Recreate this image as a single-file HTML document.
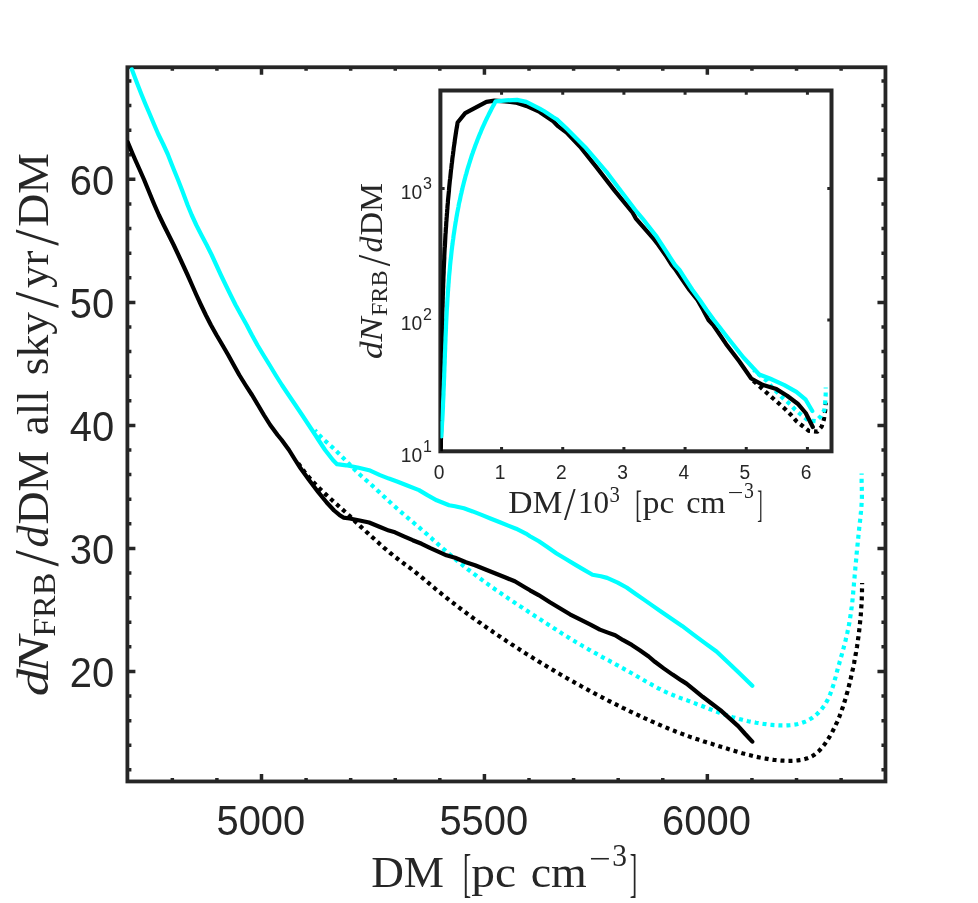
<!DOCTYPE html>
<html><head><meta charset="utf-8"><title>dN/dDM plot</title>
<style>html,body{margin:0;padding:0;background:#fff;}svg{display:block;}</style>
</head><body>
<svg width="978" height="903" viewBox="0 0 978 903">
<rect x="0" y="0" width="978" height="903" fill="#fff"/>
<rect x="127.4" y="67.25" width="758.05" height="714.20" fill="none" stroke="#262626" stroke-width="3.8"/>
<path d="M172.33,781.45V778.05M172.33,67.25V70.65M216.91,781.45V778.05M216.91,67.25V70.65M261.50,781.45V773.95M261.50,67.25V74.75M306.08,781.45V778.05M306.08,67.25V70.65M350.67,781.45V778.05M350.67,67.25V70.65M395.25,781.45V778.05M395.25,67.25V70.65M439.84,781.45V778.05M439.84,67.25V70.65M484.43,781.45V773.95M484.43,67.25V74.75M529.01,781.45V778.05M529.01,67.25V70.65M573.60,781.45V778.05M573.60,67.25V70.65M618.18,781.45V778.05M618.18,67.25V70.65M662.77,781.45V778.05M662.77,67.25V70.65M707.35,781.45V773.95M707.35,67.25V74.75M751.93,781.45V778.05M751.93,67.25V70.65M796.52,781.45V778.05M796.52,67.25V70.65M841.11,781.45V778.05M841.11,67.25V70.65M127.4,769.87H131.40M885.45,769.87H881.45M127.4,745.26H131.40M885.45,745.26H881.45M127.4,720.66H131.40M885.45,720.66H881.45M127.4,696.06H131.40M885.45,696.06H881.45M127.4,671.45H135.40M885.45,671.45H877.45M127.4,646.85H131.40M885.45,646.85H881.45M127.4,622.24H131.40M885.45,622.24H881.45M127.4,597.63H131.40M885.45,597.63H881.45M127.4,573.03H131.40M885.45,573.03H881.45M127.4,548.42H135.40M885.45,548.42H877.45M127.4,523.82H131.40M885.45,523.82H881.45M127.4,499.21H131.40M885.45,499.21H881.45M127.4,474.61H131.40M885.45,474.61H881.45M127.4,450.00H131.40M885.45,450.00H881.45M127.4,425.40H135.40M885.45,425.40H877.45M127.4,400.79H131.40M885.45,400.79H881.45M127.4,376.19H131.40M885.45,376.19H881.45M127.4,351.58H131.40M885.45,351.58H881.45M127.4,326.98H131.40M885.45,326.98H881.45M127.4,302.38H135.40M885.45,302.38H877.45M127.4,277.77H131.40M885.45,277.77H881.45M127.4,253.16H131.40M885.45,253.16H881.45M127.4,228.56H131.40M885.45,228.56H881.45M127.4,203.95H131.40M885.45,203.95H881.45M127.4,179.35H135.40M885.45,179.35H877.45M127.4,154.74H131.40M885.45,154.74H881.45M127.4,130.14H131.40M885.45,130.14H881.45M127.4,105.53H131.40M885.45,105.53H881.45M127.4,80.93H131.40M885.45,80.93H881.45" stroke="#262626" stroke-width="3.5" fill="none"/>
<clipPath id="cm"><rect x="127.4" y="67.25" width="758.05" height="714.20"/></clipPath>
<g fill="none" stroke-linejoin="round" clip-path="url(#cm)">
<polyline points="296.3,460.2 297.4,461.9 298.5,463.6 299.6,465.2 300.8,466.9 301.9,468.5 303.2,470.1 304.4,471.7 305.6,473.2 306.9,474.8 308.2,476.3 309.5,477.8 310.8,479.3 312.2,480.8 313.5,482.3 314.9,483.7 316.3,485.1 317.7,486.6 319.1,488.0 320.5,489.4 322.0,490.8 323.4,492.2 324.9,493.6 326.3,494.9 327.8,496.3 329.3,497.6 330.8,499.0 332.2,500.3 333.7,501.7 335.2,503.0 336.7,504.3 338.2,505.7 339.7,507.0 341.2,508.3 342.7,509.7 344.2,511.0 345.7,512.3 347.1,513.7 348.6,515.0 350.1,516.4 351.5,517.8 352.9,519.2 354.3,520.6 355.7,522.0 357.2,523.3 358.6,524.7 360.1,526.1 361.5,527.4 363.0,528.8 364.5,530.1 366.0,531.5 367.5,532.8 368.9,534.2 370.4,535.5 371.9,536.9 373.4,538.2 374.9,539.6 376.4,540.9 377.9,542.2 379.3,543.6 380.8,544.9 382.3,546.2 383.8,547.6 385.4,548.9 386.9,550.2 388.4,551.5 389.9,552.8 391.5,554.0 393.0,555.3 394.6,556.6 396.2,557.8 397.8,559.0 399.4,560.2 401.0,561.4 402.6,562.6 404.2,563.8 405.8,565.0 407.4,566.2 409.0,567.3 410.7,568.5 412.2,569.8 413.8,571.0 415.4,572.2 417.0,573.5 418.5,574.7 420.1,576.0 421.6,577.2 423.2,578.5 424.7,579.8 426.2,581.1 427.8,582.4 429.3,583.7 430.8,585.0 432.4,586.2 433.9,587.5 435.4,588.8 437.0,590.1 438.5,591.4 440.1,592.6 441.6,593.9 443.2,595.2 444.7,596.4 446.3,597.7 447.9,598.9 449.4,600.1 451.0,601.4 452.6,602.6 454.2,603.8 455.8,605.0 457.4,606.3 459.0,607.5 460.6,608.7 462.2,609.9 463.8,611.1 465.4,612.3 467.0,613.5 468.6,614.6 470.2,615.8 471.8,617.0 473.4,618.2 475.1,619.3 476.7,620.5 478.3,621.7 480.0,622.8 481.6,624.0 483.2,625.1 484.9,626.3 486.5,627.4 488.2,628.6 489.8,629.7 491.5,630.8 493.1,632.0 494.8,633.1 496.4,634.2 498.1,635.4 499.8,636.5 501.4,637.6 503.1,638.7 504.8,639.8 506.4,640.9 508.1,642.0 509.8,643.1 511.4,644.2 513.1,645.3 514.8,646.4 516.5,647.5 518.2,648.6 519.9,649.7 521.5,650.7 523.2,651.8 524.9,652.9 526.6,654.0 528.3,655.0 530.0,656.1 531.7,657.1 533.4,658.2 535.1,659.3 536.8,660.3 538.5,661.4 540.2,662.4 541.9,663.4 543.7,664.5 545.4,665.5 547.1,666.6 548.8,667.6 550.5,668.6 552.3,669.6 554.0,670.6 555.7,671.7 557.4,672.7 559.2,673.7 560.9,674.7 562.6,675.7 564.4,676.7 566.1,677.7 567.8,678.7 569.6,679.7 571.3,680.7 573.1,681.6 574.8,682.6 576.6,683.6 578.3,684.6 580.1,685.5 581.8,686.5 583.6,687.5 585.3,688.4 587.1,689.4 588.8,690.3 590.6,691.3 592.4,692.2 594.1,693.2 595.9,694.1 597.7,695.0 599.4,696.0 601.2,696.9 603.0,697.8 604.8,698.8 606.6,699.7 608.3,700.6 610.1,701.5 611.9,702.4 613.7,703.3 615.5,704.2 617.3,705.1 619.1,706.0 620.9,706.9 622.7,707.8 624.5,708.6 626.3,709.5 628.1,710.4 629.9,711.3 631.7,712.1 633.5,713.0 635.3,713.8 637.1,714.7 638.9,715.5 640.7,716.4 642.6,717.2 644.4,718.1 646.2,718.9 648.0,719.7 649.9,720.5 651.7,721.4 653.5,722.2 655.4,723.0 657.2,723.8 659.0,724.6 660.9,725.4 662.7,726.2 664.6,726.9 666.4,727.7 668.3,728.5 670.1,729.2 672.0,730.0 673.9,730.7 675.7,731.5 677.6,732.2 679.5,732.9 681.3,733.6 683.2,734.3 685.1,735.0 687.0,735.7 688.8,736.4 690.7,737.1 692.6,737.7 694.5,738.4 696.4,739.0 698.3,739.6 700.2,740.2 702.1,740.8 704.0,741.5 705.9,742.1 707.8,742.7 709.7,743.3 711.6,743.8 713.5,744.4 715.4,745.0 717.3,745.6 719.2,746.2 721.1,746.8 723.1,747.4 725.0,748.0 726.9,748.6 728.8,749.2 730.8,749.8 732.7,750.3 734.6,750.9 736.5,751.5 738.5,752.1 740.4,752.6 742.3,753.2 744.3,753.7 746.2,754.2 748.1,754.8 750.1,755.2 752.0,755.7 753.9,756.2 755.9,756.7 757.8,757.1 759.7,757.5 761.7,757.9 763.6,758.3 765.6,758.6 767.5,758.9 769.5,759.3 771.4,759.5 773.4,759.8 775.4,760.0 777.4,760.2 779.4,760.4 781.4,760.6 783.5,760.7 785.5,760.8 787.6,760.8 789.6,760.8 791.7,760.8 793.7,760.7 795.7,760.6 797.8,760.4 799.8,760.1 801.7,759.8 803.7,759.3 805.6,758.8 807.4,758.2 809.2,757.5 811.0,756.7 812.7,755.8 814.4,754.7 815.9,753.6 817.4,752.3 818.9,751.0 820.3,749.5 821.6,748.0 822.9,746.4 824.2,744.8 825.4,743.2 826.5,741.5 827.6,739.8 828.7,738.1 829.8,736.4 830.8,734.6 831.8,732.9 832.7,731.1 833.6,729.3 834.5,727.6 835.4,725.8 836.2,723.9 837.1,722.1 837.9,720.3 838.6,718.4 839.4,716.6 840.1,714.7 840.8,712.9 841.5,711.0 842.1,709.1 842.8,707.2 843.4,705.3 844.0,703.4 844.6,701.5 845.2,699.6 845.8,697.7 846.3,695.8 846.8,693.8 847.4,691.9 847.9,690.0 848.4,688.0 848.9,686.1 849.4,684.1 849.9,682.2 850.3,680.2 850.8,678.3 851.2,676.3 851.7,674.4 852.1,672.4 852.5,670.5 853.0,668.5 853.4,666.5 853.8,664.6 854.2,662.6 854.5,660.6 854.9,658.7 855.3,656.7 855.6,654.7 856.0,652.7 856.3,650.8 856.6,648.8 857.0,646.8 857.3,644.8 857.6,642.9 857.9,640.9 858.1,638.9 858.4,636.9 858.7,634.9 858.9,632.9 859.2,630.9 859.4,628.9 859.6,627.0 859.8,625.0 860.0,623.0 860.2,621.0 860.4,619.0 860.6,617.0 860.8,615.0 860.9,613.0 861.1,611.0 861.2,609.0 861.3,607.0 861.5,605.0 861.6,603.0 861.7,601.0 861.8,599.0 861.8,597.0 861.9,595.0 862.0,593.0 862.0,591.0 862.0,589.0 862.1,587.0 862.1,585.0 862.1,583.0" stroke="#000" stroke-width="4.2" stroke-dasharray="4 4" stroke-dashoffset="4.36"/>
<polyline points="314.9,430.1 316.2,431.7 317.5,433.2 318.8,434.7 320.2,436.1 321.6,437.5 323.0,438.9 324.5,440.3 326.0,441.6 327.4,442.9 328.9,444.3 330.4,445.6 331.9,446.9 333.4,448.3 334.8,449.6 336.3,451.0 337.7,452.4 339.1,453.8 340.5,455.2 341.9,456.7 343.3,458.1 344.7,459.5 346.1,461.0 347.5,462.4 348.9,463.8 350.3,465.3 351.7,466.7 353.1,468.1 354.5,469.5 356.0,470.9 357.4,472.2 358.9,473.6 360.3,475.0 361.8,476.3 363.3,477.6 364.8,479.0 366.3,480.3 367.8,481.6 369.3,483.0 370.8,484.3 372.3,485.6 373.7,487.0 375.2,488.3 376.7,489.7 378.1,491.1 379.6,492.4 381.0,493.8 382.5,495.2 383.9,496.5 385.4,497.9 386.9,499.3 388.3,500.6 389.8,502.0 391.3,503.3 392.7,504.7 394.2,506.0 395.7,507.3 397.2,508.7 398.7,510.0 400.2,511.3 401.7,512.6 403.2,513.9 404.8,515.2 406.3,516.5 407.8,517.8 409.3,519.1 410.8,520.4 412.4,521.7 413.9,523.0 415.4,524.3 416.9,525.6 418.5,526.9 420.0,528.2 421.5,529.5 423.0,530.8 424.5,532.1 426.0,533.4 427.5,534.7 429.0,536.1 430.5,537.4 432.0,538.7 433.5,540.1 435.0,541.4 436.5,542.7 438.0,544.1 439.4,545.4 440.9,546.7 442.4,548.1 443.9,549.4 445.4,550.7 446.9,552.0 448.4,553.3 450.0,554.6 451.5,555.9 453.0,557.2 454.5,558.5 456.1,559.8 457.6,561.1 459.2,562.3 460.7,563.6 462.3,564.8 463.8,566.1 465.4,567.3 467.0,568.6 468.5,569.8 470.1,571.0 471.7,572.2 473.3,573.4 474.9,574.6 476.5,575.8 478.1,577.0 479.7,578.2 481.3,579.4 482.9,580.6 484.5,581.8 486.1,582.9 487.8,584.1 489.4,585.3 491.0,586.4 492.6,587.6 494.3,588.7 495.9,589.9 497.6,591.0 499.2,592.2 500.9,593.3 502.5,594.4 504.2,595.6 505.8,596.7 507.5,597.8 509.1,598.9 510.8,600.0 512.4,601.2 514.1,602.3 515.8,603.4 517.4,604.5 519.1,605.6 520.8,606.7 522.5,607.8 524.1,608.9 525.8,610.0 527.5,611.1 529.1,612.2 530.8,613.3 532.5,614.4 534.2,615.5 535.8,616.6 537.5,617.6 539.2,618.7 540.9,619.8 542.6,620.9 544.2,622.0 545.9,623.1 547.6,624.2 549.3,625.3 550.9,626.3 552.6,627.4 554.3,628.5 556.0,629.6 557.7,630.7 559.4,631.7 561.0,632.8 562.7,633.9 564.4,634.9 566.1,636.0 567.8,637.1 569.5,638.1 571.2,639.2 572.9,640.2 574.6,641.2 576.3,642.3 578.1,643.3 579.8,644.3 581.5,645.3 583.2,646.3 585.0,647.3 586.7,648.3 588.4,649.3 590.2,650.3 591.9,651.3 593.7,652.3 595.4,653.2 597.2,654.2 598.9,655.2 600.7,656.1 602.4,657.1 604.2,658.1 605.9,659.0 607.7,660.0 609.5,660.9 611.2,661.9 613.0,662.8 614.7,663.8 616.5,664.8 618.2,665.7 620.0,666.7 621.7,667.7 623.5,668.6 625.2,669.6 627.0,670.6 628.7,671.6 630.4,672.5 632.2,673.5 633.9,674.5 635.7,675.5 637.4,676.5 639.1,677.5 640.8,678.5 642.6,679.5 644.3,680.5 646.0,681.5 647.8,682.5 649.5,683.5 651.3,684.4 653.0,685.4 654.8,686.4 656.5,687.3 658.3,688.3 660.1,689.2 661.8,690.1 663.6,691.0 665.4,691.8 667.2,692.6 669.1,693.4 670.9,694.2 672.8,695.0 674.6,695.7 676.5,696.4 678.3,697.2 680.2,697.9 682.1,698.6 684.0,699.2 685.8,699.9 687.7,700.6 689.6,701.3 691.5,702.0 693.3,702.7 695.2,703.4 697.1,704.2 698.9,704.9 700.8,705.6 702.7,706.3 704.5,707.0 706.4,707.8 708.3,708.5 710.1,709.2 712.0,709.9 713.9,710.6 715.7,711.3 717.6,712.0 719.5,712.7 721.4,713.4 723.3,714.1 725.1,714.7 727.0,715.3 728.9,716.0 730.8,716.6 732.7,717.2 734.7,717.7 736.6,718.3 738.5,718.8 740.4,719.3 742.4,719.8 744.3,720.3 746.3,720.7 748.2,721.2 750.2,721.6 752.2,722.0 754.1,722.3 756.1,722.7 758.0,723.0 760.0,723.4 762.0,723.7 764.0,724.0 765.9,724.2 767.9,724.5 769.9,724.7 771.9,724.9 773.9,725.1 775.9,725.2 777.9,725.3 779.9,725.4 781.9,725.4 783.9,725.4 785.9,725.4 787.9,725.3 790.0,725.2 792.0,725.0 793.9,724.7 795.9,724.4 797.9,724.0 799.8,723.5 801.7,723.0 803.6,722.3 805.4,721.6 807.2,720.8 809.0,719.8 810.7,718.8 812.4,717.7 814.0,716.5 815.5,715.3 817.0,714.0 818.5,712.6 819.9,711.1 821.2,709.6 822.4,708.1 823.6,706.5 824.7,704.9 825.8,703.2 826.7,701.5 827.7,699.7 828.5,697.9 829.3,696.1 830.1,694.3 830.8,692.4 831.5,690.6 832.1,688.7 832.8,686.7 833.4,684.8 833.9,682.9 834.5,680.9 835.0,679.0 835.6,677.0 836.1,675.1 836.6,673.1 837.1,671.2 837.7,669.2 838.2,667.3 838.8,665.3 839.3,663.4 839.8,661.4 840.4,659.5 840.9,657.6 841.5,655.7 842.0,653.7 842.5,651.8 843.0,649.9 843.6,647.9 844.1,646.0 844.6,644.1 845.1,642.2 845.6,640.2 846.0,638.3 846.5,636.4 846.9,634.4 847.4,632.5 847.8,630.6 848.2,628.6 848.6,626.7 849.0,624.7 849.4,622.8 849.7,620.8 850.0,618.8 850.3,616.9 850.6,614.9 850.9,612.9 851.2,610.9 851.4,609.0 851.7,607.0 851.9,605.0 852.2,603.0 852.4,601.0 852.6,599.0 852.8,597.0 853.0,595.0 853.2,593.0 853.3,591.0 853.5,589.0 853.7,587.0 853.9,585.0 854.0,583.0 854.2,581.0 854.4,579.0 854.6,577.0 854.7,575.0 854.9,573.0 855.1,571.0 855.3,569.0 855.4,567.1 855.6,565.1 855.8,563.1 856.0,561.1 856.2,559.1 856.4,557.1 856.5,555.1 856.7,553.1 856.9,551.1 857.1,549.2 857.3,547.2 857.5,545.2 857.7,543.2 857.9,541.2 858.1,539.2 858.3,537.2 858.5,535.3 858.7,533.3 858.9,531.3 859.1,529.3 859.3,527.3 859.5,525.3 859.7,523.4 860.0,521.4 860.2,519.4 860.4,517.4 860.6,515.4 860.8,513.4 861.0,511.4 861.1,509.5 861.3,507.5 861.5,505.5 861.6,503.5 861.7,501.5 861.8,499.5 861.9,497.5 861.9,495.5 861.9,493.5 861.9,491.5 861.8,489.5 861.8,487.5 861.7,485.5 861.7,483.5 861.6,481.5 861.6,479.5 861.6,477.5 861.6,475.5 861.6,473.5" stroke="#0ff" stroke-width="4.2" stroke-dasharray="4 4" stroke-dashoffset="1.71"/>
<polyline points="127.7,142.1 132.7,154.0 135.3,160.0 139.8,170.0 144.2,180.0 148.3,190.0 152.4,200.0 154.5,205.0 158.9,215.0 163.7,225.0 168.7,235.0 173.7,245.0 178.4,255.0 183.0,265.0 187.6,275.0 192.0,285.0 196.4,295.0 201.0,305.0 205.8,315.0 210.9,325.0 216.5,335.0 222.4,345.0 228.2,355.0 233.7,365.0 239.3,375.0 245.5,385.0 252.0,395.0 258.0,405.0 263.9,415.0 270.2,425.0 277.6,435.0 281.7,440.0 289.0,450.0 295.2,460.0 300.4,468.0 308.7,479.5 318.1,491.9 326.7,502.5 334.1,510.5 339.4,514.9 343.4,517.6 349.6,518.5 358.5,520.2 369.1,522.5 380.0,527.0 388.9,530.6 395.0,532.3 403.9,536.3 412.7,540.2 421.6,543.8 430.4,548.2 439.3,552.2 446.4,555.3 455.1,557.8 465.9,562.3 475.0,565.3 484.9,569.3 494.9,573.3 504.9,577.3 514.8,581.3 524.8,587.2 530.0,590.3 538.6,595.1 549.9,602.3 559.9,608.3 569.9,614.3 580.0,619.3 590.0,624.3 599.9,629.6 607.9,632.6 615.2,635.2 623.2,640.2 631.8,644.9 639.8,650.2 648.7,656.5 654.9,661.8 663.7,668.4 672.6,674.6 681.4,680.4 686.5,683.6 693.9,689.7 702.7,696.8 711.6,703.5 720.4,710.1 729.3,718.1 738.2,726.1 745.2,734.0 752.3,741.6" stroke="#000" stroke-width="4.2" stroke-linecap="round"/>
<polyline points="131.8,69.2 133.6,74.0 137.4,84.0 141.3,94.0 145.4,104.0 149.7,114.0 153.9,124.0 158.2,134.0 163.1,144.0 167.7,154.0 171.6,164.0 174.0,170.0 178.1,180.0 182.0,190.0 187.6,205.0 191.7,215.0 196.3,225.0 201.4,235.0 206.7,245.0 211.7,255.0 216.3,265.0 220.9,275.0 225.7,285.0 230.6,295.0 235.6,305.0 241.1,315.0 246.7,325.0 251.9,335.0 257.4,345.0 263.4,355.0 269.6,365.0 275.6,375.0 281.9,385.0 288.6,395.0 295.4,405.0 302.1,415.0 308.7,425.0 315.3,435.0 318.5,440.0 325.1,450.0 332.9,460.0 337.0,464.2 346.1,465.3 357.6,467.5 369.1,470.2 380.0,475.1 388.9,478.6 397.7,481.7 406.6,485.2 419.0,490.1 427.8,495.4 436.7,500.3 449.1,505.2 455.0,506.3 463.9,508.3 472.7,511.4 481.6,514.9 490.4,518.5 499.3,522.0 508.2,525.6 516.1,528.7 525.9,533.6 530.0,536.2 538.9,541.3 547.7,547.3 556.6,553.5 565.4,558.8 574.3,564.1 583.2,569.4 592.5,574.7 600.9,576.3 607.1,577.9 617.7,582.6 626.6,587.5 635.4,593.7 644.3,599.9 653.2,606.1 662.0,612.3 671.1,618.5 682.1,625.9 693.2,634.3 704.3,642.6 716.5,651.5 728.7,663.1 739.7,673.6 752.3,685.8" stroke="#0ff" stroke-width="4.2" stroke-linecap="round"/>
</g>
<text x="216.46" y="834.90" font-family='"Liberation Sans", Arial, sans-serif' font-size="42" textLength="88.77" lengthAdjust="spacingAndGlyphs" fill="#262626">5000</text>
<text x="439.39" y="834.90" font-family='"Liberation Sans", Arial, sans-serif' font-size="42" textLength="88.77" lengthAdjust="spacingAndGlyphs" fill="#262626">5500</text>
<text x="662.11" y="834.90" font-family='"Liberation Sans", Arial, sans-serif' font-size="42" textLength="88.77" lengthAdjust="spacingAndGlyphs" fill="#262626">6000</text>
<text x="69.81" y="686.95" font-family='"Liberation Sans", Arial, sans-serif' font-size="42" textLength="44.38" lengthAdjust="spacingAndGlyphs" fill="#262626">20</text>
<text x="69.81" y="563.92" font-family='"Liberation Sans", Arial, sans-serif' font-size="42" textLength="44.38" lengthAdjust="spacingAndGlyphs" fill="#262626">30</text>
<text x="69.81" y="440.90" font-family='"Liberation Sans", Arial, sans-serif' font-size="42" textLength="44.38" lengthAdjust="spacingAndGlyphs" fill="#262626">40</text>
<text x="69.81" y="317.88" font-family='"Liberation Sans", Arial, sans-serif' font-size="42" textLength="44.38" lengthAdjust="spacingAndGlyphs" fill="#262626">50</text>
<text x="69.81" y="194.85" font-family='"Liberation Sans", Arial, sans-serif' font-size="42" textLength="44.38" lengthAdjust="spacingAndGlyphs" fill="#262626">60</text>
<text x="371.19" y="886.70" font-family='"Liberation Serif", "Times New Roman", serif' font-size="44.9" textLength="72.87" lengthAdjust="spacingAndGlyphs" fill="#262626">DM</text>
<text x="463.01" y="891.10" font-family='"Liberation Serif", "Times New Roman", serif' font-size="52.9" textLength="8.17" lengthAdjust="spacingAndGlyphs" fill="#262626">[</text>
<text x="471.24" y="886.70" font-family='"Liberation Serif", "Times New Roman", serif' font-size="44.9" textLength="44.78" lengthAdjust="spacingAndGlyphs" fill="#262626">pc</text>
<text x="530.71" y="886.70" font-family='"Liberation Serif", "Times New Roman", serif' font-size="44.9" textLength="56.07" lengthAdjust="spacingAndGlyphs" fill="#262626">cm</text>
<text x="589.33" y="868.60" font-family='"Liberation Serif", "Times New Roman", serif' font-size="31.5" textLength="21.71" lengthAdjust="spacingAndGlyphs" fill="#262626">−</text>
<text x="612.13" y="866.00" font-family='"Liberation Serif", "Times New Roman", serif' font-size="31.5" textLength="14.70" lengthAdjust="spacingAndGlyphs" fill="#262626">3</text>
<text x="629.87" y="890.90" font-family='"Liberation Serif", "Times New Roman", serif' font-size="52.9" textLength="7.40" lengthAdjust="spacingAndGlyphs" fill="#262626">]</text>
<text transform="translate(47.60,696.19) rotate(-90)" x="0" y="0" font-family='"Liberation Serif", "Times New Roman", serif' font-size="44.9" font-style="italic" textLength="27.34" lengthAdjust="spacingAndGlyphs" fill="#262626">d</text>
<text transform="translate(47.60,673.37) rotate(-90)" x="0" y="0" font-family='"Liberation Serif", "Times New Roman", serif' font-size="44.9" font-style="italic" textLength="37.43" lengthAdjust="spacingAndGlyphs" fill="#262626">N</text>
<text transform="translate(54.60,636.66) rotate(-90)" x="0" y="0" font-family='"Liberation Serif", "Times New Roman", serif' font-size="32" textLength="63.84" lengthAdjust="spacingAndGlyphs" fill="#262626">FRB</text>
<text transform="translate(57.50,566.55) rotate(-90)" x="0" y="0" font-family='"Liberation Serif", "Times New Roman", serif' font-size="64" textLength="16.37" lengthAdjust="spacingAndGlyphs" fill="#262626">/</text>
<text transform="translate(47.60,547.46) rotate(-90)" x="0" y="0" font-family='"Liberation Serif", "Times New Roman", serif' font-size="44.9" font-style="italic" textLength="21.81" lengthAdjust="spacingAndGlyphs" fill="#262626">d</text>
<text transform="translate(47.60,524.52) rotate(-90)" x="0" y="0" font-family='"Liberation Serif", "Times New Roman", serif' font-size="44.9" textLength="73.71" lengthAdjust="spacingAndGlyphs" fill="#262626">DM</text>
<text transform="translate(47.60,435.23) rotate(-90)" x="0" y="0" font-family='"Liberation Serif", "Times New Roman", serif' font-size="44.9" textLength="45.16" lengthAdjust="spacingAndGlyphs" fill="#262626">all</text>
<text transform="translate(47.60,375.27) rotate(-90)" x="0" y="0" font-family='"Liberation Serif", "Times New Roman", serif' font-size="44.9" textLength="63.21" lengthAdjust="spacingAndGlyphs" fill="#262626">sky</text>
<text transform="translate(57.50,307.95) rotate(-90)" x="0" y="0" font-family='"Liberation Serif", "Times New Roman", serif' font-size="64" textLength="16.26" lengthAdjust="spacingAndGlyphs" fill="#262626">/</text>
<text transform="translate(47.60,287.90) rotate(-90)" x="0" y="0" font-family='"Liberation Serif", "Times New Roman", serif' font-size="44.9" textLength="37.31" lengthAdjust="spacingAndGlyphs" fill="#262626">yr</text>
<text transform="translate(57.50,245.85) rotate(-90)" x="0" y="0" font-family='"Liberation Serif", "Times New Roman", serif' font-size="64" textLength="16.26" lengthAdjust="spacingAndGlyphs" fill="#262626">/</text>
<text transform="translate(47.60,226.82) rotate(-90)" x="0" y="0" font-family='"Liberation Serif", "Times New Roman", serif' font-size="44.9" textLength="73.71" lengthAdjust="spacingAndGlyphs" fill="#262626">DM</text>
<rect x="440.4" y="90.5" width="391.10" height="360.80" fill="#fff" stroke="none"/>
<rect x="440.4" y="90.5" width="391.10" height="360.80" fill="none" stroke="#262626" stroke-width="4"/>
<path d="M501.57,451.3V447.10M501.57,90.5V94.70M562.74,451.3V447.10M562.74,90.5V94.70M623.91,451.3V447.10M623.91,90.5V94.70M685.08,451.3V447.10M685.08,90.5V94.70M746.25,451.3V447.10M746.25,90.5V94.70M807.42,451.3V447.10M807.42,90.5V94.70M440.4,319.95H444.60M831.5,319.95H827.30M440.4,188.60H444.60M831.5,188.60H827.30" stroke="#262626" stroke-width="3" fill="none"/>
<clipPath id="ci"><rect x="440.4" y="90.5" width="391.10" height="360.80"/></clipPath>
<g fill="none" stroke-linejoin="round" clip-path="url(#ci)">
<polyline points="751.3,379.0 755.2,382.5 767.1,393.1 779.1,403.7 785.3,409.2 791.1,415.0 796.4,421.2 802.6,426.0 808.8,430.9 817.4,431.7 821.7,426.5 823.9,419.4 825.2,410.5 825.7,402.6" stroke="#000" stroke-width="4.2" stroke-dasharray="4 4" stroke-dashoffset="5.19"/>
<polyline points="753.6,370.0 767.1,381.1 772.5,387.8 783.3,398.5 790.2,404.3 795.3,409.8 801.3,415.0 807.9,420.3 815.9,421.2 820.8,416.3 824.3,410.1 825.2,402.1 825.7,394.1 825.7,387.5" stroke="#0ff" stroke-width="4.2" stroke-dasharray="4 4" stroke-dashoffset="2.03"/>
<polyline points="440.8,451.0 440.8,449.0 440.9,447.0 440.9,445.0 440.9,443.0 440.9,441.0 441.0,439.0 441.0,437.0 441.0,435.0 441.0,433.0 441.1,431.0 441.1,428.9 441.1,426.9 441.1,424.9 441.1,422.9 441.2,420.9 441.2,418.9 441.2,416.9 441.2,414.9 441.2,412.9 441.3,410.9 441.3,408.9 441.3,406.9 441.3,404.9 441.3,402.9 441.3,400.9 441.4,398.8 441.4,396.8 441.4,394.8 441.4,392.8 441.4,390.8 441.4,388.8 441.5,386.8 441.5,384.8 441.5,382.8 441.5,380.8 441.5,378.8 441.5,376.7 441.6,374.7 441.6,372.7 441.6,370.7 441.6,368.7 441.6,366.7 441.7,364.7 441.7,362.7 441.7,360.7 441.7,358.7 441.7,356.7 441.8,354.6 441.8,352.6 441.8,350.6 441.8,348.6 441.9,346.6 441.9,344.6 441.9,342.6 441.9,340.6 442.0,338.6 442.0,336.6 442.0,334.6 442.1,332.5 442.1,330.5 442.1,328.5 442.2,326.5 442.2,324.5 442.2,322.5 442.3,320.5 442.3,318.5 442.4,316.5 442.4,314.5 442.4,312.4 442.5,310.4 442.5,308.4 442.6,306.4 442.6,304.4 442.7,302.4 442.7,300.4 442.8,298.4 442.8,296.4 442.9,294.4 443.0,292.4 443.0,290.4 443.1,288.3 443.2,286.3 443.2,284.3 443.3,282.3 443.4,280.3 443.4,278.3 443.5,276.3 443.6,274.3 443.7,272.3 443.7,270.3 443.8,268.3 443.9,266.3 444.0,264.3 444.1,262.2 444.2,260.2 444.3,258.2 444.3,256.2 444.4,254.2 444.5,252.2 444.6,250.2 444.7,248.2 444.9,246.2 445.0,244.2 445.1,242.2 445.2,240.2 445.3,238.2 445.4,236.2 445.5,234.2 445.7,232.2 445.8,230.2 445.9,228.2 446.1,226.2 446.2,224.2 446.3,222.2 446.5,220.2 446.6,218.2 446.8,216.2 446.9,214.2 447.1,212.2 447.2,210.2 447.4,208.2 447.5,206.2 447.7,204.2 447.9,202.2 448.0,200.2 448.2,198.2 448.4,196.2 448.6,194.2 448.8,192.2 449.0,190.2 449.1,188.2 449.3,186.2 449.5,184.2 449.7,182.2 449.9,180.2 450.2,178.2 450.4,176.2 450.6,174.2 450.8,172.2 451.0,170.2 451.3,168.2 451.5,166.2 451.7,164.2 452.0,162.3 452.2,160.3 452.4,158.3 452.7,156.3 453.0,154.3 453.2,152.3 453.5,150.3 453.7,148.3 454.0,146.3 454.3,144.3 454.6,142.4 454.8,140.4 455.1,138.4 455.4,136.4 455.7,134.4 456.0,132.4 456.3,130.4 456.6,128.5 457.0,126.5 457.3,124.5 457.6,122.5 465.2,113.2 486.4,101.9 494.4,100.6 505.0,101.3 515.7,102.6 526.3,105.9 539.6,111.9 553.3,121.3 557.6,125.9 566.6,132.6 579.9,146.5 595.8,166.4 614.4,190.4 632.7,212.7 635.7,218.3 653.9,239.2 658.4,245.0 665.4,255.0 671.7,265.0 675.8,270.0 682.6,280.0 689.5,290.0 697.5,300.0 703.2,310.0 708.5,320.0 713.2,325.0 726.0,343.9 739.2,361.2 751.2,378.5 763.2,385.1 776.4,389.1 787.1,395.7 797.7,403.7 805.7,413.0 812.8,427.0" stroke="#000" stroke-width="4.2" stroke-linecap="round"/>
<polyline points="441.3,436.3 441.4,434.3 441.6,432.3 441.7,430.3 441.8,428.3 441.9,426.4 442.0,424.4 442.1,422.4 442.3,420.4 442.4,418.4 442.5,416.4 442.6,414.4 442.7,412.4 442.8,410.4 442.9,408.4 443.0,406.4 443.0,404.4 443.1,402.4 443.2,400.4 443.3,398.4 443.4,396.4 443.5,394.4 443.5,392.4 443.6,390.4 443.7,388.4 443.8,386.4 443.9,384.4 443.9,382.4 444.0,380.4 444.1,378.4 444.2,376.4 444.2,374.4 444.3,372.4 444.4,370.4 444.4,368.4 444.5,366.3 444.6,364.3 444.7,362.3 444.7,360.3 444.8,358.3 444.9,356.3 444.9,354.3 445.0,352.3 445.1,350.3 445.2,348.3 445.2,346.3 445.3,344.2 445.4,342.2 445.5,340.2 445.5,338.2 445.6,336.2 445.7,334.2 445.8,332.2 445.9,330.2 446.0,328.2 446.0,326.2 446.1,324.2 446.2,322.1 446.3,320.1 446.4,318.1 446.5,316.1 446.6,314.1 446.7,312.1 446.8,310.1 446.9,308.1 447.1,306.1 447.2,304.1 447.3,302.1 447.4,300.1 447.5,298.1 447.7,296.1 447.8,294.1 447.9,292.0 448.1,290.0 448.2,288.0 448.4,286.0 448.5,284.0 448.7,282.0 448.8,280.0 449.0,278.0 449.1,276.0 449.3,274.0 449.5,272.0 449.7,270.0 449.9,268.0 450.0,266.1 450.2,264.1 450.4,262.1 450.6,260.1 450.9,258.1 451.1,256.1 451.3,254.1 451.5,252.1 451.7,250.1 452.0,248.1 452.2,246.1 452.5,244.2 452.7,242.2 453.0,240.2 453.3,238.2 453.5,236.2 453.8,234.2 454.1,232.3 454.4,230.3 454.7,228.3 455.0,226.3 455.3,224.4 455.6,222.4 456.0,220.4 456.3,218.4 456.6,216.5 457.0,214.5 457.3,212.5 457.7,210.6 458.1,208.6 458.5,206.6 458.8,204.7 459.2,202.7 459.7,200.8 460.1,198.8 460.5,196.9 460.9,194.9 461.4,193.0 461.8,191.0 462.3,189.1 462.7,187.1 463.2,185.2 463.7,183.3 464.2,181.3 464.7,179.4 465.2,177.5 465.7,175.5 466.3,173.6 466.8,171.7 467.3,169.8 467.9,167.9 468.5,166.0 469.1,164.0 469.7,162.1 470.3,160.2 470.9,158.3 471.5,156.4 472.1,154.5 472.8,152.7 473.4,150.8 474.1,148.9 474.8,147.0 475.5,145.1 476.2,143.3 476.9,141.4 477.6,139.5 478.4,137.7 479.1,135.8 479.9,133.9 480.7,132.1 481.4,130.3 482.2,128.4 483.0,126.6 483.9,124.7 484.7,122.9 485.5,121.1 486.4,119.3 487.3,117.4 488.2,115.6 489.1,113.8 490.0,112.0 490.9,110.2 491.8,108.4 492.8,106.6 493.7,104.9 494.7,103.1 495.7,101.3 506.0,100.4 517.0,99.9 526.3,101.9 539.6,108.6 544.3,111.3 553.3,117.3 557.6,119.9 566.6,128.6 585.2,147.2 606.4,171.8 622.4,193.0 635.3,210.0 642.3,218.3 656.6,236.6 662.0,245.0 668.5,255.0 675.0,265.0 679.5,270.0 685.9,280.0 692.5,290.0 699.8,300.0 706.6,310.0 713.9,320.0 720.4,328.3 727.3,337.3 743.2,357.2 759.2,374.5 769.8,378.5 784.4,385.1 796.4,391.8 805.7,399.7 812.3,411.0" stroke="#0ff" stroke-width="4.2" stroke-linecap="round"/>
</g>
<text x="433.72" y="479.40" font-family='"Liberation Sans", Arial, sans-serif' font-size="20" textLength="10.68" lengthAdjust="spacingAndGlyphs" fill="#262626">0</text>
<text x="494.65" y="479.40" font-family='"Liberation Sans", Arial, sans-serif' font-size="20" textLength="10.68" lengthAdjust="spacingAndGlyphs" fill="#262626">1</text>
<text x="556.11" y="479.40" font-family='"Liberation Sans", Arial, sans-serif' font-size="20" textLength="10.68" lengthAdjust="spacingAndGlyphs" fill="#262626">2</text>
<text x="617.28" y="479.40" font-family='"Liberation Sans", Arial, sans-serif' font-size="20" textLength="10.68" lengthAdjust="spacingAndGlyphs" fill="#262626">3</text>
<text x="678.55" y="479.40" font-family='"Liberation Sans", Arial, sans-serif' font-size="20" textLength="10.68" lengthAdjust="spacingAndGlyphs" fill="#262626">4</text>
<text x="739.62" y="479.40" font-family='"Liberation Sans", Arial, sans-serif' font-size="20" textLength="10.68" lengthAdjust="spacingAndGlyphs" fill="#262626">5</text>
<text x="800.70" y="479.40" font-family='"Liberation Sans", Arial, sans-serif' font-size="20" textLength="10.68" lengthAdjust="spacingAndGlyphs" fill="#262626">6</text>
<text x="400.76" y="461.50" font-family='"Liberation Sans", Arial, sans-serif' font-size="20" textLength="21.36" lengthAdjust="spacingAndGlyphs" fill="#262626">10</text>
<text x="423.0" y="451.60" font-family='"Liberation Sans", Arial, sans-serif' font-size="16" fill="#262626">1</text>
<text x="400.76" y="330.15" font-family='"Liberation Sans", Arial, sans-serif' font-size="20" textLength="21.36" lengthAdjust="spacingAndGlyphs" fill="#262626">10</text>
<text x="423.0" y="320.25" font-family='"Liberation Sans", Arial, sans-serif' font-size="16" fill="#262626">2</text>
<text x="400.76" y="198.80" font-family='"Liberation Sans", Arial, sans-serif' font-size="20" textLength="21.36" lengthAdjust="spacingAndGlyphs" fill="#262626">10</text>
<text x="423.0" y="188.90" font-family='"Liberation Sans", Arial, sans-serif' font-size="16" fill="#262626">3</text>
<text x="508.24" y="513.40" font-family='"Liberation Serif", "Times New Roman", serif' font-size="32.5" textLength="54.06" lengthAdjust="spacingAndGlyphs" fill="#262626">DM</text>
<text x="564.05" y="520.30" font-family='"Liberation Serif", "Times New Roman", serif' font-size="47.2" textLength="11.62" lengthAdjust="spacingAndGlyphs" fill="#262626">/</text>
<text x="577.91" y="513.40" font-family='"Liberation Serif", "Times New Roman", serif' font-size="32.5" textLength="31.09" lengthAdjust="spacingAndGlyphs" fill="#262626">10</text>
<text x="609.62" y="501.70" font-family='"Liberation Serif", "Times New Roman", serif' font-size="22.5" textLength="10.36" lengthAdjust="spacingAndGlyphs" fill="#262626">3</text>
<text x="635.25" y="516.60" font-family='"Liberation Serif", "Times New Roman", serif' font-size="38.5" textLength="6.66" lengthAdjust="spacingAndGlyphs" fill="#262626">[</text>
<text x="642.75" y="513.40" font-family='"Liberation Serif", "Times New Roman", serif' font-size="32.5" textLength="31.57" lengthAdjust="spacingAndGlyphs" fill="#262626">pc</text>
<text x="686.36" y="513.40" font-family='"Liberation Serif", "Times New Roman", serif' font-size="32.5" textLength="39.26" lengthAdjust="spacingAndGlyphs" fill="#262626">cm</text>
<text x="727.76" y="500.40" font-family='"Liberation Serif", "Times New Roman", serif' font-size="22.5" textLength="15.65" lengthAdjust="spacingAndGlyphs" fill="#262626">−</text>
<text x="743.96" y="498.40" font-family='"Liberation Serif", "Times New Roman", serif' font-size="22.5" textLength="9.88" lengthAdjust="spacingAndGlyphs" fill="#262626">3</text>
<text x="757.19" y="516.60" font-family='"Liberation Serif", "Times New Roman", serif' font-size="38.5" textLength="5.33" lengthAdjust="spacingAndGlyphs" fill="#262626">]</text>
<text transform="translate(381.80,359.01) rotate(-90)" x="0" y="0" font-family='"Liberation Serif", "Times New Roman", serif' font-size="32.5" font-style="italic" textLength="17.66" lengthAdjust="spacingAndGlyphs" fill="#262626">d</text>
<text transform="translate(381.80,341.77) rotate(-90)" x="0" y="0" font-family='"Liberation Serif", "Times New Roman", serif' font-size="32.5" font-style="italic" textLength="24.55" lengthAdjust="spacingAndGlyphs" fill="#262626">N</text>
<text transform="translate(386.60,316.07) rotate(-90)" x="0" y="0" font-family='"Liberation Serif", "Times New Roman", serif' font-size="22.8" textLength="45.62" lengthAdjust="spacingAndGlyphs" fill="#262626">FRB</text>
<text transform="translate(389.60,266.25) rotate(-90)" x="0" y="0" font-family='"Liberation Serif", "Times New Roman", serif' font-size="45.8" textLength="11.42" lengthAdjust="spacingAndGlyphs" fill="#262626">/</text>
<text transform="translate(381.80,252.60) rotate(-90)" x="0" y="0" font-family='"Liberation Serif", "Times New Roman", serif' font-size="32.5" font-style="italic" textLength="15.85" lengthAdjust="spacingAndGlyphs" fill="#262626">d</text>
<text transform="translate(381.80,235.42) rotate(-90)" x="0" y="0" font-family='"Liberation Serif", "Times New Roman", serif' font-size="32.5" textLength="52.29" lengthAdjust="spacingAndGlyphs" fill="#262626">DM</text>
</svg>
</body></html>
